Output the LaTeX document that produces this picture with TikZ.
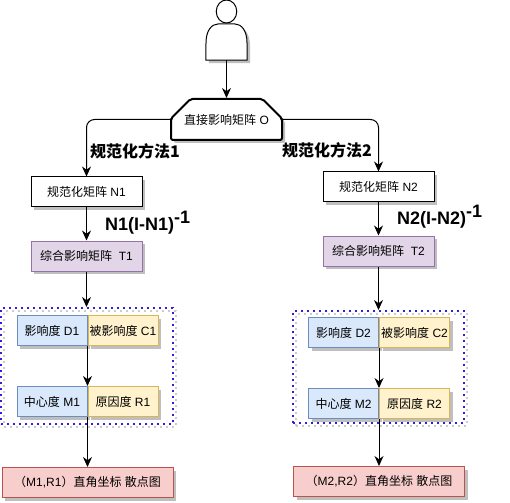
\documentclass[tikz,border=0pt]{standalone}
\usepackage{fontspec}
\usepackage{xcolor}
\setmainfont{Liberation Sans}
\newfontfamily\cjk{Noto Sans CJK SC}
\usetikzlibrary{arrows.meta,positioning,shapes.geometric,shapes.misc,shadows}
\definecolor{dmblue}{HTML}{DAE8FC}
\definecolor{dmblueline}{HTML}{6C8EBF}
\definecolor{dmyellow}{HTML}{FFF2CC}
\definecolor{dmyellowline}{HTML}{D6B656}
\definecolor{dmpurple}{HTML}{E1D5E7}
\definecolor{dmpurpleline}{HTML}{9673A6}
\definecolor{dmred}{HTML}{F8CECC}
\definecolor{dmredline}{HTML}{B85450}
\definecolor{dmdots}{RGB}{51,30,220}
\newcommand{\zh}[1]{{\cjk #1}}

\begin{document}
\begin{tikzpicture}[
  x=1pt, y=-1pt,
  font=\fontsize{12}{14}\selectfont,
  shade/.style={drop shadow={shadow xshift=3pt, shadow yshift=-3pt, opacity=0.25, fill=black}},
  base/.style={shade, draw, line width=1pt, inner sep=1pt, align=center, minimum height=30pt, fill=white},
  wide/.style={base, minimum width=111pt},
  half/.style={base, minimum width=70pt},
  blue/.style={half, draw=dmblueline, fill=dmblue},
  yellow/.style={half, draw=dmyellowline, fill=dmyellow},
  purple/.style={wide, draw=dmpurpleline, fill=dmpurple},
  plot/.style={base, minimum width=171pt, draw=dmredline, fill=dmred},
  dots/.style={preaction={draw=black, opacity=0.2, transform canvas={xshift=3pt, yshift=-3pt}}, draw=dmdots, line width=2pt, dash pattern=on 2pt off 4pt},
  method/.style={inner sep=0pt, font=\fontsize{16}{18}\selectfont\cjk\bfseries},
  formula/.style={anchor=base west, inner sep=0pt, font=\fontsize{18}{20}\selectfont\bfseries},
  arr/.style={-{Stealth[length=10pt,width=9pt]}, line width=1pt}
]
\useasboundingbox (0,0) rectangle (510,502);

% person
\node[ellipse, draw, fill=white, line width=1pt, minimum width=20.5pt, minimum height=23pt, inner sep=0pt] (head) at (226.5,11.5) {};
\node[minimum width=41pt, minimum height=36pt, inner sep=0pt] (user) at (226.5,42) {};
\draw[fill=white, line width=1pt, shade] (user.south west) -- (206,43) .. controls (206,30) and (212,24) .. (218,24) -- (235,24) .. controls (241,24) and (247,30) .. (247,43) -- (user.south east) -- cycle;

\node[chamfered rectangle, chamfered rectangle corners={north west,north east}, chamfered rectangle xsep=22pt, chamfered rectangle ysep=14pt, rounded corners=2pt, shade, draw, fill=white, line width=2pt, minimum width=111pt, minimum height=41pt, inner sep=0pt] (direct) at (226.5,119.5) {\zh{直接影响矩阵} O};

% left column
\node[dots, minimum width=172pt, minimum height=116pt] (group1) at (87,366) {};
\node[wide] (norm1) at (86.5,192) {\zh{规范化矩阵} N1};
\node[purple, below=33pt of norm1] (total1) {\zh{综合影响矩阵}\ \ T1};
\node[blue, anchor=north east] (d1) at (87.5,315) {\zh{影响度} D1};
\node[yellow, right=0pt of d1] (c1) {\zh{被影响度} C1};
\node[blue, below=40pt of d1] (m1) {\zh{中心度} M1};
\node[yellow, right=0pt of m1] (r1) {\zh{原因度} R1};
\node[plot, below=50pt of m1.south east] (scatter1) {\zh{（}M1,R1\zh{）直角坐标} \zh{散点图}};

% right column
\node[dots, minimum width=171pt, minimum height=112pt] (group2) at (378.5,367) {};
\node[wide] (norm2) at (378.5,187) {\zh{规范化矩阵} N2};
\node[purple, below=33pt of norm2] (total2) {\zh{综合影响矩阵}\ \ T2};
\node[blue, anchor=north east] (d2) at (379,317) {\zh{影响度} D2};
\node[yellow, right=0pt of d2] (c2) {\zh{被影响度} C2};
\node[blue, below=40pt of d2] (m2) {\zh{中心度} M2};
\node[yellow, right=0pt of m2] (r2) {\zh{原因度} R2};
\node[plot, below=47pt of m2.south east] (scatter2) {\zh{（}M2,R2\zh{）直角坐标} \zh{散点图}};

% labels
\node[method] (method1) at (135,151) {规范化方法1};
\node[method] (method2) at (327,150) {规范化方法2};
\node[formula] (inv1) at (105,230) {N1(I-N1)\raisebox{7pt}{-1}};
\node[formula] (inv2) at (397,225) {N2(I-N2)\raisebox{7pt}{-1}};

\draw[arr] (user.south) -- (direct.north);
\draw[arr, rounded corners=8pt] (direct.west) -| (norm1.north);
\draw[arr, rounded corners=8pt] (direct.east) -| (norm2.north);
\draw[arr] (norm1) -- (total1);
\draw[arr] (total1) -- (group1.north -| total1.south);
\draw[arr] (d1.south east) -- (m1.north east);
\draw[arr] (m1.south east) -- (scatter1.north);
\draw[arr] (norm2) -- (total2);
\draw[arr] (total2) -- (group2.north -| total2.south);
\draw[arr] (d2.south east) -- (m2.north east);
\draw[arr] (m2.south east) -- (scatter2.north);
\end{tikzpicture}
\end{document}
